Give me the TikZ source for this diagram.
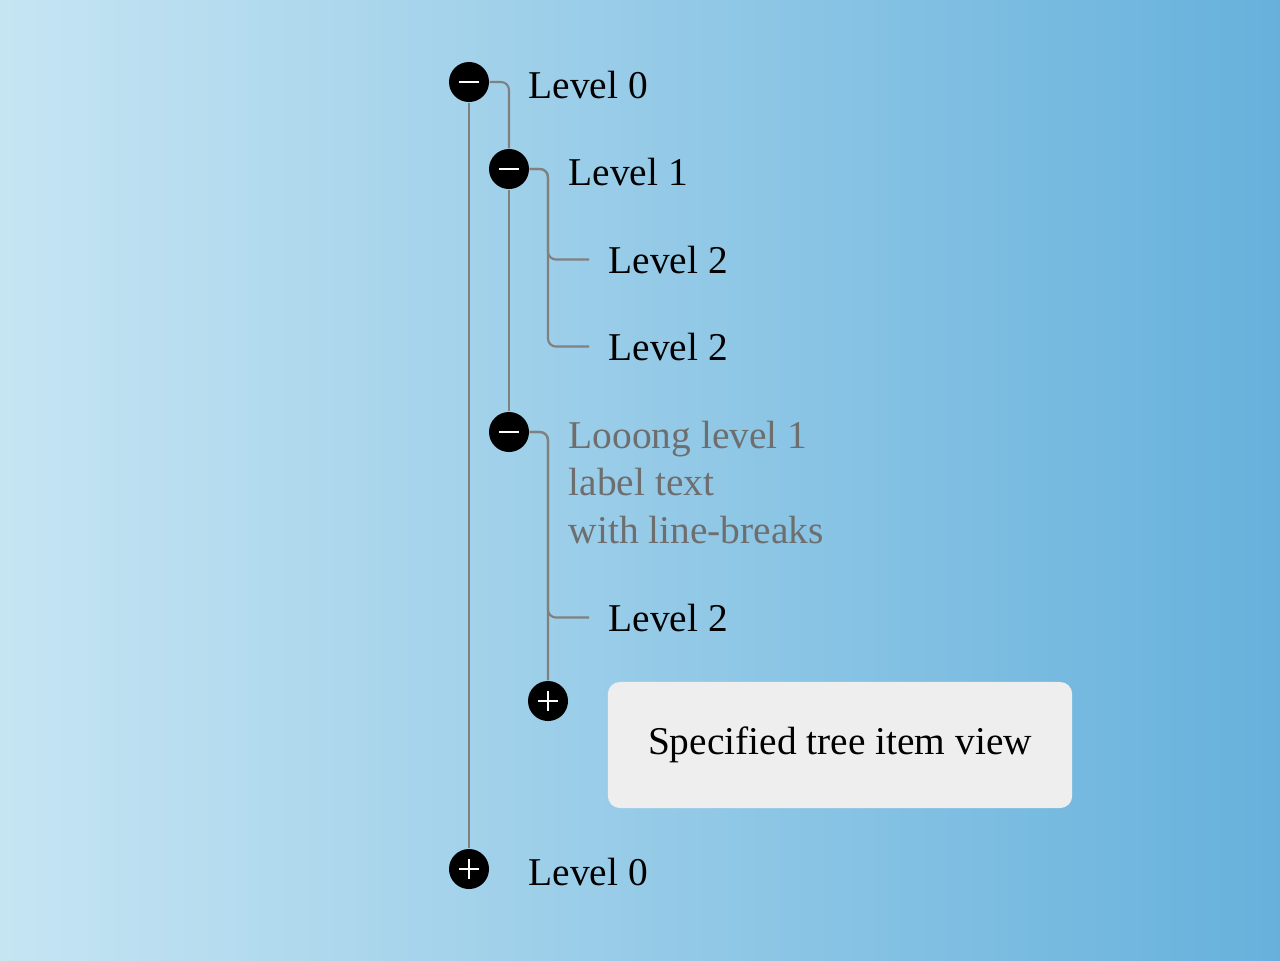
\documentclass[tikz,border=0pt]{standalone}
\usepackage{fontspec}
\setmainfont{Liberation Serif}
\usepackage{tikz}
\definecolor{bgleft}{HTML}{C6E5F3}
\definecolor{bgright}{HTML}{66B1DC}
\definecolor{wiregray}{HTML}{808080}
\definecolor{faded}{HTML}{6E6E6E}
\definecolor{card}{HTML}{EEEEEE}
\tikzset{
  btn/.style={circle, fill=black, minimum size=4mm, inner sep=0pt},
  btnopen/.style={btn, path picture={
      \draw[white, line width=0.7pt] ([xshift=-1mm]path picture bounding box.center) -- ([xshift=1mm]path picture bounding box.center);}},
  btnshut/.style={btn, path picture={
      \draw[white, line width=0.7pt] ([xshift=-1mm]path picture bounding box.center) -- ([xshift=1mm]path picture bounding box.center)
        ([yshift=-1mm]path picture bounding box.center) -- ([yshift=1mm]path picture bounding box.center);}},
  link/.style={draw=wiregray, line width=0.6pt, rounded corners=0.8mm},
  item/.style={anchor=base west, inner sep=0pt},
}

\begin{document}
\begin{tikzpicture}[x=0.01cm, y=-0.01cm, font=\fontsize{11.2pt}{13.4pt}\selectfont]
  % background
  \shade[left color=bgleft, right color=bgright] (0,0) rectangle (1280,960);

  % toggles
  \node[btnopen] (c0) at (469,82) {};
  \node[btnopen] (c1) at (509,169) {};
  \node[btnopen] (c1b) at (509,432) {};
  \node[btnshut] (c2) at (548,701) {};
  \node[btnshut] (c0b) at (469,869) {};

  % labels
  \node[item] (t0) at (528,98) {Level 0};
  \node[item] (t1) at (568,185) {Level 1};
  \node[item] (t2a) at (608,273) {Level 2};
  \node[item] (t2b) at (608,360) {Level 2};
  \node[item, faded, align=left] (tlong) at (568,543) {Looong level 1\\label text\\with line-breaks};
  \node[item] (t2c) at (608,631) {Level 2};
  \node[item] (t0b) at (528,885) {Level 0};

  % the highlighted item
  \node[fill=card, rounded corners=1.2mm, minimum width=4.64cm, minimum height=1.26cm] (view) at (840,745) {Specified tree item view};

  % tree lines
  \draw[link] (c0.south) -- (c0b.north);
  \draw[link] (c0.east) -| (c1.north);
  \draw[link] (c1.south) -- (c1b.north);
  \draw[link] (c1.east) -| ([xshift=-6mm]t2b.west) -- ([xshift=-1.9mm]t2b.west);
  \draw[link] (c1.east) -| ([xshift=-6mm]t2a.west) -- ([xshift=-1.9mm]t2a.west);
  \draw[link] (c1b.east) -| (c2.north);
  \draw[link] (c1b.east) -| ([xshift=-6mm]t2c.west) -- ([xshift=-1.9mm]t2c.west);
\end{tikzpicture}
\end{document}
